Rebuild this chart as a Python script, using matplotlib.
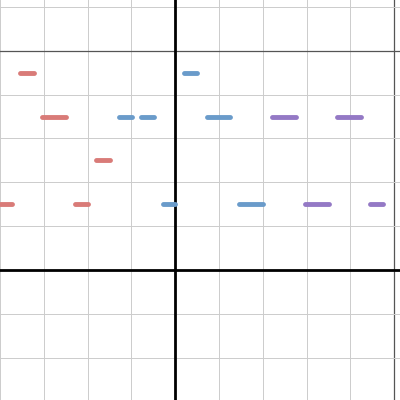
import matplotlib
matplotlib.use("Agg")
import matplotlib.pyplot as plt

red_y = [4.5, 3.5, 2.5, 1.5, 1.5]
red_x0 = [-3.54, -3.04, -1.8, -4.0, -2.28]
red_x1 = [-3.22, -2.49, -1.48, -3.72, -1.99]
blue_y = [4.5, 3.5, 3.5, 3.5, 1.5, 1.5]
blue_x0 = [0.2, -1.28, -0.78, 0.73, -0.27, 1.46]
blue_x1 = [0.5, -0.98, -0.48, 1.26, 0.0, 2.0]
purple_y = [3.5, 3.5, 1.5, 1.5]
purple_x0 = [2.21, 3.7, 2.97, 4.45]
purple_x1 = [2.76, 4.25, 3.52, 4.75]

fig = plt.figure(figsize=(4, 4), dpi=100)
ax = fig.add_axes([0, 0, 1, 1])
ax.set_xlim(-4, 5.13)
ax.set_ylim(-2.97, 6.16)
for v in range(-4, 6):
    ax.axvline(v, color='#555' if v % 5 == 0 and v else '#ccc', lw=0.9 if v % 5 == 0 else 0.7, zorder=0)
for v in range(-2, 7):
    ax.axhline(v, color='#555' if v % 5 == 0 and v else '#ccc', lw=0.9 if v % 5 == 0 else 0.7, zorder=0)
ax.axhline(0, color='black', lw=2, zorder=1)
ax.axvline(0, color='black', lw=2, zorder=1)

for ys, x0s, x1s, c in [(red_y, red_x0, red_x1, '#d97b78'),
                        (blue_y, blue_x0, blue_x1, '#6a9bca'),
                        (purple_y, purple_x0, purple_x1, '#9479c5')]:
    for y, a, b in zip(ys, x0s, x1s):
        ax.plot([a, b], [y, y], color=c, lw=3.5, solid_capstyle='round', zorder=2)
ax.set_xticks([]); ax.set_yticks([])
for s in ax.spines.values():
    s.set_visible(False)
fig.savefig("out.png")
